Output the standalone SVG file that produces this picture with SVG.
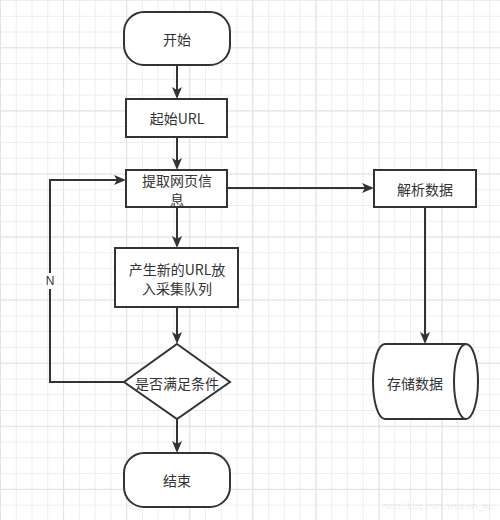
<svg xmlns="http://www.w3.org/2000/svg" width="500" height="520" viewBox="0 0 500 520">
<defs>
<pattern id="minor" patternUnits="userSpaceOnUse" x="0" y="0" width="15.77" height="15.77">
<path d="M0.5 0 V15.77 M0 0.5 H15.77" stroke="#ededed" stroke-width="1" fill="none"/>
</pattern>
<pattern id="major" patternUnits="userSpaceOnUse" x="0" y="47.3" width="63.08" height="63.08">
<path d="M0.5 0 V63.08 M0 0.5 H63.08" stroke="#e2e2e2" stroke-width="1" fill="none"/>
</pattern>
<marker id="arrow" viewBox="0 0 12 10" refX="9" refY="5" markerWidth="12" markerHeight="10" markerUnits="userSpaceOnUse" orient="auto">
<path d="M0,0 L12,5 L0,10 L3,5 Z" fill="#333"/>
</marker>
<style>
.shape{fill:#fff;stroke:#333;stroke-width:2}
.edge{fill:none;stroke:#333;stroke-width:2;marker-end:url(#arrow)}
.line{fill:none;stroke:#333;stroke-width:2}
.lbl{font-family:"Noto Sans CJK SC","Noto Sans",sans-serif;font-size:14px;fill:#333;text-anchor:middle;dominant-baseline:central}
</style>
</defs>
<rect width="500" height="520" fill="#fff"/>
<rect width="500" height="520" fill="url(#minor)"/>
<rect width="500" height="520" fill="url(#major)"/>

<g id="connectors">
<path class="edge" d="M177,65 V96"/>
<path class="edge" d="M177,137 V167"/>
<path class="edge" d="M177,207 V245"/>
<path class="edge" d="M177,307 V341"/>
<path class="edge" d="M177,419 V450"/>
<path class="edge" d="M227,188 H371"/>
<path class="edge" d="M425,207 V341"/>
<path class="edge" d="M124,382 H50 V180 H123"/>
<rect x="43" y="273" width="14" height="16" fill="#fff"/>
<text class="lbl" x="50" y="281" style="font-family:'Liberation Sans',sans-serif;font-size:12px">N</text>
</g>

<g id="start">
<rect class="shape" x="124" y="12" width="106" height="53" rx="20" ry="20"/>
<text class="lbl" x="177" y="39">开始</text>
</g>
<g id="start-url">
<rect class="shape" x="126" y="99" width="101" height="38"/>
<text class="lbl" x="177" y="118">起始URL</text>
</g>
<g id="fetch">
<rect class="shape" x="126" y="170" width="101" height="37"/>
<text class="lbl" x="177" y="180">提取网页信</text>
<text class="lbl" x="177" y="199">息</text>
</g>
<g id="queue">
<rect class="shape" x="115" y="248" width="123" height="59"/>
<text class="lbl" x="177" y="269">产生新的URL放</text>
<text class="lbl" x="177" y="288">入采集队列</text>
</g>
<g id="condition">
<path class="shape" d="M177,344 L230,382 L177,419 L124,382 Z"/>
<text class="lbl" x="177" y="383">是否满足条件</text>
</g>
<g id="end">
<rect class="shape" x="124" y="453" width="106" height="54" rx="20" ry="20"/>
<text class="lbl" x="177" y="480">结束</text>
</g>
<g id="parse">
<rect class="shape" x="374" y="170" width="102" height="37"/>
<text class="lbl" x="425" y="189">解析数据</text>
</g>
<g id="store">
<path class="shape" d="M385,344 L466,344 A12,37.5 0 0 1 466,419 L385,419 A12,37.5 0 0 1 385,344 Z"/>
<path class="line" d="M466,344 A12,37.5 0 0 0 466,419"/>
<text class="lbl" x="415" y="383">存储数据</text>
</g>
<text x="383" y="509" font-family="Liberation Sans, sans-serif" font-size="8.2" fill="#000" fill-opacity="0.1">https://blog.csdn.net/qiulin_wu</text>
</svg>
